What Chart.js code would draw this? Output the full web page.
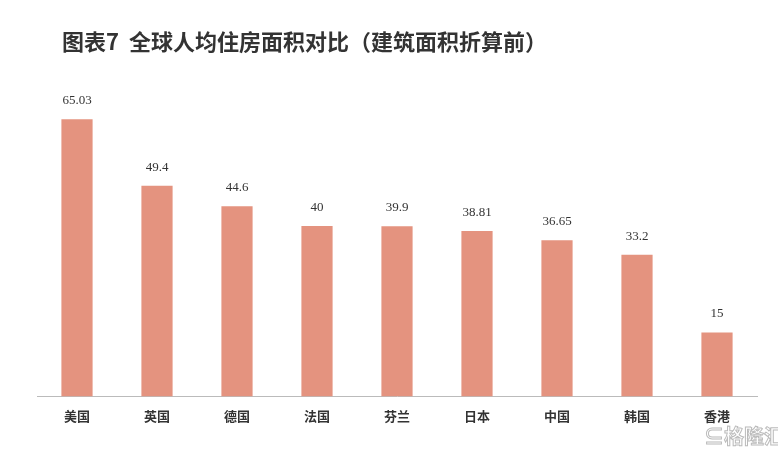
<!DOCTYPE html>
<html>
<head>
<meta charset="utf-8">
<script src="https://cdn.jsdelivr.net/npm/chart.js@4/dist/chart.umd.min.js"></script>
<style>
  html, body { margin: 0; padding: 0; background: #fff; }
  #wrap { width: 778px; height: 451px; position: relative; }
</style>
</head>
<body>
<div id="wrap"><canvas id="areaChart"></canvas></div>
<script>
const countries = ["美国", "英国", "德国", "法国", "芬兰", "日本", "中国", "韩国", "香港"];
const areaPerPerson = [65.03, 49.4, 44.6, 40, 39.9, 38.81, 36.65, 33.2, 15];
const valueLabels = ["65.03", "49.4", "44.6", "40", "39.9", "38.81", "36.65", "33.2", "15"];
const chartTitle = "图表7  全球人均住房面积对比（建筑面积折算前）";

// title + value labels + watermark
const decorPlugin = {
  id: "decor",
  afterDraw(chart) {
    const ctx = chart.ctx;
    ctx.save();
    ctx.fillStyle = "#333";
    ctx.font = "bold 22px 'Noto Sans CJK SC', sans-serif";
    ctx.textBaseline = "middle";
    ctx.textAlign = "left";
    ctx.fillText(chartTitle, 62, 42);

    const meta = chart.getDatasetMeta(0);
    ctx.font = "13px 'Liberation Serif', 'DejaVu Serif', serif";
    ctx.textAlign = "center";
    ctx.textBaseline = "bottom";
    ctx.fillStyle = "#333";
    meta.data.forEach((bar, i) => {
      ctx.fillText(valueLabels[i], bar.x, bar.y - 12);
    });

    // watermark
    ctx.font = "bold 20px 'Noto Sans CJK SC', sans-serif";
    ctx.textAlign = "left";
    ctx.textBaseline = "middle";
    ctx.strokeStyle = "#bbb";
    ctx.lineWidth = 1;
    ctx.strokeText("⊆格隆汇", 704, 436);
    ctx.restore();
  }
};

new Chart(document.getElementById("areaChart"), {
  type: "bar",
  data: {
    labels: countries,
    datasets: [{
      data: areaPerPerson,
      backgroundColor: "#E4937F",
      barPercentage: 0.39,
      categoryPercentage: 1
    }]
  },
  options: {
    responsive: true,
    maintainAspectRatio: false,
    animation: false,
    layout: { padding: { left: 37, right: 21, top: 98, bottom: 23 } },
    plugins: { legend: { display: false }, tooltip: { enabled: false } },
    scales: {
      y: { display: false, min: 0, max: 70 },
      x: {
        grid: { display: false },
        border: { color: "#bbb", width: 1 },
        ticks: {
          color: "#333",
          padding: 4,
          font: { family: "'Noto Sans CJK SC', sans-serif", size: 13, weight: "bold" }
        }
      }
    }
  },
  plugins: [decorPlugin]
});
</script>
</body>
</html>
